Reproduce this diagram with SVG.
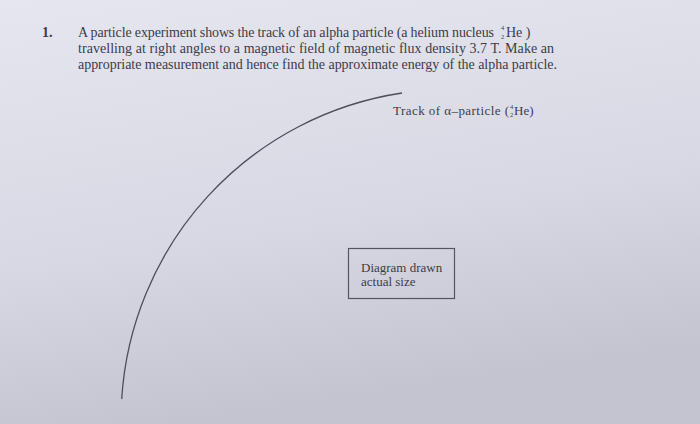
<svg xmlns="http://www.w3.org/2000/svg" width="700" height="424" viewBox="0 0 700 424">
<defs>
<linearGradient id="bg" x1="0" y1="0" x2="0.25" y2="1">
<stop offset="0" stop-color="#e6e6f0"/>
<stop offset="0.6" stop-color="#d8d8e4"/>
<stop offset="1" stop-color="#c4c4d0"/>
</linearGradient>
<style>
.t{font-family:"Liberation Serif","Times New Roman",serif;font-size:14px;fill:#3c3c48}
.s{font-family:"Liberation Serif","Times New Roman",serif;font-size:13px;fill:#3c3c48}
.sm{font-size:6.5px}
.ln{fill:none;stroke:#4e4e5a;stroke-width:1.3}
</style>
</defs>
<rect width="700" height="424" fill="url(#bg)"/>
<g id="question">
<text class="t" x="42" y="37" font-weight="bold">1.</text>
<text class="t" x="78" y="37" textLength="416" lengthAdjust="spacing">A particle experiment shows the track of an alpha particle (a helium nucleus</text>
<text class="t sm" x="501" y="30">4</text>
<text class="t sm" x="501" y="38.5">2</text>
<text class="t" x="506" y="37">He )</text>
<text class="t" x="78" y="53" textLength="476" lengthAdjust="spacing">travelling at right angles to a magnetic field of magnetic flux density 3.7 T. Make an</text>
<text class="t" x="78" y="69" textLength="479" lengthAdjust="spacing">appropriate measurement and hence find the approximate energy of the alpha particle.</text>
</g>
<g id="connectors">
<path class="ln" d="M121.7,399 A330,330 0 0 1 402,93"/>
</g>
<g id="track-label">
<text class="s" x="393" y="115" textLength="116" lengthAdjust="spacing">Track of α–particle (</text>
<text class="s sm" x="510" y="108.5">4</text>
<text class="s sm" x="510" y="117">2</text>
<text class="s" x="514" y="115">He)</text>
</g>
<g id="note">
<rect x="348.5" y="248.5" width="106" height="50" fill="none" stroke="#55555f" stroke-width="1.2"/>
<text class="s" x="361" y="272">Diagram drawn</text>
<text class="s" x="361" y="286">actual size</text>
</g>
</svg>
